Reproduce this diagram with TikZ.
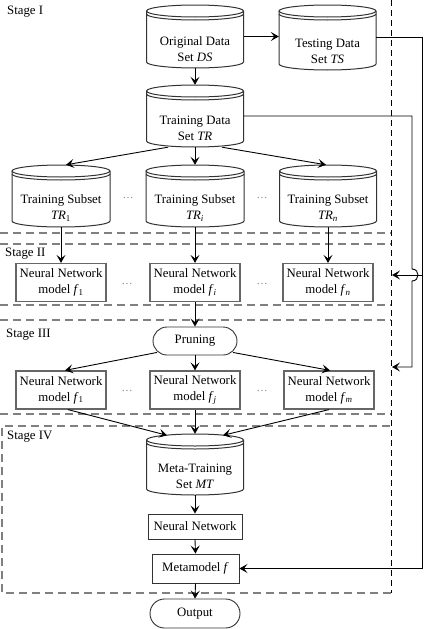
\documentclass[tikz,border=0pt]{standalone}
\usepackage{fontspec}
\setmainfont{Liberation Serif}
\usetikzlibrary{arrows.meta,calc}
\definecolor{boxgray}{HTML}{666666}
\definecolor{cylgray}{HTML}{333333}
\definecolor{framegray}{HTML}{808080}
\tikzset{
  txt/.style={font=\fontsize{12.8pt}{16pt}\selectfont, align=center, inner sep=0pt},
  cylnode/.style={draw=none, inner sep=0pt},
  nnbox/.style={draw=boxgray, line width=1.2pt, minimum width=90pt, minimum height=38pt, inner sep=1pt, txt},
  plainbox/.style={draw=cylgray, line width=0.9pt, inner sep=1pt, txt},
  stadium/.style={draw=cylgray, line width=0.9pt, txt, rounded corners=14pt},
  cylline/.style={draw=cylgray, line width=1pt},
  arr/.style={draw=black, -{Stealth[length=8pt,width=9pt,inset=3.5pt]}, line width=0.9pt},
  conn/.style={draw=black, line width=0.9pt},
  stageframe/.style={draw=framegray, dash pattern=on 8pt off 5pt, line width=1.3pt},
  rightdash/.style={draw=black, dash pattern=on 6pt off 4pt, line width=0.9pt},
  dotsnode/.style={text=framegray, font=\fontsize{11pt}{13pt}\selectfont, inner sep=0pt},
  stagelbl/.style={font=\fontsize{12.8pt}{15pt}\selectfont, anchor=west, inner sep=0pt}
}
\newcommand{\dbcyl}[6]{%
  \node[cylnode, minimum width={2*#5*1pt}, minimum height={(#4-#3)*1pt}] (#1) at (#2,{(#3+#4)/2}) {};
  \node[txt] (#1t) at (#2,{#4-19}) {#6};
  \path[cylline] ({#2-#5},{#3+6}) -- ({#2-#5},{#4-6}) arc[start angle=180,end angle=360,x radius=#5pt,y radius=6pt] -- ({#2+#5},{#3+6});
  \path[cylline] (#2,{#3+6}) ellipse[x radius=#5pt,y radius=6pt];
  \path[cylline] ({#2-#5},{#3+9}) arc[start angle=180,end angle=360,x radius=#5pt,y radius=6pt];
}
\newcommand{\mysub}[1]{\textsubscript{#1}}
\begin{document}
\begin{tikzpicture}[x=1pt,y=-1pt]
\useasboundingbox (0,0) rectangle (434,629);

% stage frames
\draw[stageframe] (0,233) -- (391,233);
\draw[stageframe] (0,244) -- (391,244);
\draw[stageframe] (0,305) -- (391,305);
\draw[stageframe] (0,320) -- (391,320);
\draw[stageframe] (0,414) -- (391,414);
\draw[stageframe] (391,593) -- (2,593) -- (2,426) -- (391,426);
\draw[rightdash] (391,0) -- (391,593);

\node[stagelbl] (st1) at (7,12) {Stage I};
\node[stagelbl] (st2) at (5,254) {Stage II};
\node[stagelbl] (st3) at (6,335) {Stage III};
\node[stagelbl] (st4) at (7,437) {Stage IV};

% Stage I
\dbcyl{ds}{195}{5}{68}{48.5}{Original Data\\Set \textit{DS}}
\dbcyl{ts}{327.5}{5}{70}{48.5}{Testing Data\\Set \textit{TS}}
\dbcyl{tr}{195}{85}{147}{48.5}{Training Data\\Set \textit{TR}}
\dbcyl{tra}{61}{165}{227}{49}{Training Subset\\\textit{TR}\mysub{1}}
\dbcyl{tri}{195}{165}{227}{49}{Training Subset\\\textit{TR}\mysub{\textit{i}}}
\dbcyl{trn}{328}{165}{227}{48.5}{Training Subset\\\textit{TR}\mysub{\textit{n}}}
\node[dotsnode] (d1) at (128,198) {\dots};
\node[dotsnode] (d2) at (262,198) {\dots};

\draw[arr] (ds.east) -- (ds.east -| ts.west);
\draw[arr] (ds.south) -- (tr.north);
\draw[arr] ([xshift=-27pt]tr.south) -- ([xshift=5pt]tra.north);
\draw[arr] (tr.south) -- (tri.north);
\draw[arr] ([xshift=27pt]tr.south) -- ([xshift=-2pt]trn.north);

% Stage II
\node[nnbox] (fa) at (61,282.5) {Neural Network\\model \textit{f}\mysub{1}};
\node[nnbox] (fi) at (195,282.5) {Neural Network\\model \textit{f}\mysub{\textit{i}}};
\node[nnbox] (fn) at (328,282.5) {Neural Network\\model \textit{f}\mysub{\textit{n}}};
\node[dotsnode] (d3) at (127,284) {\dots};
\node[dotsnode] (d4) at (262,284) {\dots};
\draw[arr] (tra.south) -- (fa.north);
\draw[arr] (tri.south) -- (fi.north);
\draw[arr] (trn.south) -- (fn.north);

% Stage III
\node[stadium, minimum width=84pt, minimum height=28pt] (pr) at (195,341) {Pruning};
\draw[arr] (fi.south) -- (pr.north);
\node[nnbox] (fb) at (61,390) {Neural Network\\model \textit{f}\mysub{1}};
\node[nnbox] (fj) at (195,390) {Neural Network\\model \textit{f}\mysub{\textit{j}}};
\node[nnbox] (fm) at (329,390) {Neural Network\\model \textit{f}\mysub{\textit{m}}};
\node[dotsnode] (d5) at (127,391) {\dots};
\node[dotsnode] (d6) at (262,391) {\dots};
\draw[arr] ([xshift=-38pt,yshift=3pt]pr.south) -- ([xshift=4pt]fb.north);
\draw[arr] (pr.south) -- (fj.north);
\draw[arr] ([xshift=38pt,yshift=3pt]pr.south) -- ([xshift=1pt]fm.north);

% Stage IV
\dbcyl{mt}{195}{434}{495}{48.5}{Meta-Training\\Set \textit{MT}}
\draw[arr] ([xshift=7pt]fb.south) -- ([xshift=-28pt,yshift=-1.5pt]mt.north);
\draw[arr] (fj.south) -- (mt.north);
\draw[arr] (fm.south) -- ([xshift=28pt,yshift=-1.5pt]mt.north);
\node[plainbox, minimum width=94pt, minimum height=25pt] (nn) at (195,526.5) {Neural Network};
\node[plainbox, minimum width=87pt, minimum height=29pt] (meta) at (195.5,568.5) {Metamodel \textit{f}};
\node[stadium, minimum width=90pt, minimum height=29pt, rounded corners=14.5pt] (out) at (195,613.5) {Output};
\draw[arr] (mt.south) -- (nn.north);
\draw[arr] (nn.south) -- (meta.north);
\draw[arr] (meta.south) -- (out.north);

% right-side feedback lines
\coordinate (c1) at (422,37.5);
\coordinate (c2) at (422,568.5);
\coordinate (c3) at (422,275);
\coordinate (s2r) at (392,275);
\coordinate (c4) at (412,116);
\coordinate (c5) at (412,269);
\coordinate (c6) at (412,281);
\coordinate (c7) at (412,367);
\coordinate (s3r) at (392,367);
\draw[arr] (ts.east) -- (c1) -- (c2) -- (meta.east);
\draw[arr] (c3) -- (s2r);
\draw[arr] (tr.east) -- (c4) -- (c5) .. controls (420,269) and (420,281) .. (c6) -- (c7) -- (s3r);
\end{tikzpicture}
\end{document}
